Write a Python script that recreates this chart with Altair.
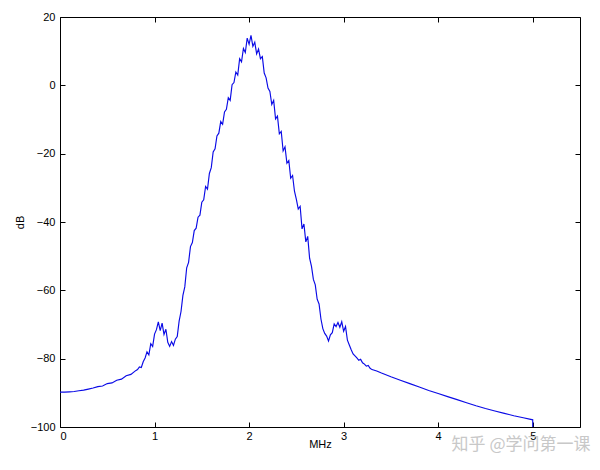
import altair as alt
import pandas as pd

# ---- data ----
freq_left = [0.00, 0.05, 0.10, 0.15, 0.20, 0.25, 0.30, 0.35, 0.40, 0.45,
             0.50, 0.55, 0.60, 0.65, 0.70, 0.75, 0.80]
db_left = [-89.8, -89.8, -89.7, -89.6, -89.4, -89.2, -88.9, -88.6, -88.2, -88.0,
           -87.3, -87.1, -86.3, -86.0, -85.0, -84.6, -83.5]

freq_mid = [0.82, 0.84, 0.86, 0.88, 0.90, 0.92, 0.94, 0.96, 0.98, 1.00,
            1.02, 1.04, 1.06, 1.08, 1.10, 1.12, 1.14, 1.16, 1.18, 1.20,
            1.22, 1.24, 1.26, 1.28, 1.30, 1.32, 1.34, 1.36, 1.38, 1.40,
            1.42, 1.44, 1.46, 1.48, 1.50, 1.52, 1.54, 1.56, 1.58, 1.60,
            1.62, 1.64, 1.66, 1.68, 1.70, 1.72, 1.74, 1.76, 1.78, 1.80,
            1.82, 1.84, 1.86, 1.88, 1.90, 1.92, 1.94, 1.96, 1.98, 2.00,
            2.02, 2.04, 2.06, 2.08, 2.10, 2.12, 2.14, 2.16, 2.18, 2.20,
            2.22, 2.24, 2.26, 2.28, 2.30, 2.32, 2.34, 2.36, 2.38, 2.40,
            2.42, 2.44, 2.46, 2.48, 2.50, 2.52, 2.54, 2.56, 2.58, 2.60,
            2.62, 2.64, 2.66, 2.68, 2.70, 2.72, 2.74, 2.76, 2.78, 2.80,
            2.82, 2.84, 2.86, 2.88, 2.90, 2.92, 2.94, 2.96, 2.98, 3.00,
            3.02, 3.04, 3.06, 3.08, 3.10, 3.12, 3.14, 3.16, 3.18, 3.20,
            3.22, 3.24, 3.26, 3.28, 3.30]
db_mid = [-83.2, -82.4, -82.6, -80.9, -79.8, -78.0, -78.9, -75.6, -76.4, -72.8,
          -71.5, -69.2, -71.8, -69.6, -72.9, -71.4, -75.2, -76.4, -75.0, -76.1,
          -74.3, -73.5, -69.0, -66.2, -61.5, -59.0, -53.4, -51.8, -47.2, -46.0,
          -42.5, -41.8, -38.6, -38.0, -34.2, -33.5, -29.6, -30.4, -25.8, -24.1,
          -19.5, -18.6, -14.8, -14.0, -10.6, -11.4, -7.8, -7.0, -3.6, -4.4,
          0.2, 0.8, 3.9, 3.0, 7.8, 6.9, 10.8, 9.6, 13.8, 12.0,
          14.6, 11.4, 12.6, 9.2, 10.6, 7.8, 8.4, 3.6, 2.2, -0.8,
          -1.8, -5.6, -4.4, -9.8, -9.0, -14.2, -13.5, -19.2, -18.0, -22.8,
          -22.0, -27.2, -26.4, -31.0, -33.4, -36.2, -35.4, -42.0, -40.6, -45.8,
          -44.2, -50.6, -53.0, -56.8, -58.4, -62.6, -64.0, -68.4, -71.2, -72.6,
          -73.4, -74.8, -73.0, -72.4, -69.8, -70.6, -69.4, -70.8, -69.2, -72.0,
          -70.6, -74.6, -76.0, -77.4, -78.6, -79.2, -79.8, -80.5, -80.2, -81.2,
          -81.6, -82.2, -82.0, -82.8, -83.2]

freq_right = [3.35, 3.40, 3.50, 3.60, 3.70, 3.80, 3.90, 4.00, 4.10, 4.20, 4.30,
              4.40, 4.50, 4.60, 4.70, 4.80, 4.90, 5.00, 5.00]
db_right = [-83.6, -84.2, -85.3, -86.3, -87.3, -88.3, -89.3, -90.2, -91.1, -92.0, -92.9,
            -93.8, -94.6, -95.3, -96.0, -96.7, -97.3, -97.9, -100.0]

x_ticks = [0, 1, 2, 3, 4, 5]
y_ticks = [-100, -80, -60, -40, -20, 0, 20]

freq = freq_left + freq_mid + freq_right
db = db_left + db_mid + db_right
df = pd.DataFrame({"MHz": freq, "dB": db, "i": list(range(len(freq)))})

FONT = "Liberation Sans"
xs = alt.Scale(domain=[0, 5.5], nice=False, zero=False)
ys = alt.Scale(domain=[-100, 20], nice=False, zero=False)

line = alt.Chart(df).mark_line(color="#0a0ae6", strokeWidth=1.15).encode(
    x=alt.X("MHz:Q", scale=xs, axis=alt.Axis(
        values=x_ticks, ticks=False, domain=False, grid=False,
        labelPadding=3, labelFont=FONT, labelFontSize=11, labelColor="black",
        title="MHz", titleFont=FONT, titleFontSize=11, titleFontWeight="normal",
        titleColor="black", titleBaseline="middle", titleY=17)),
    y=alt.Y("dB:Q", scale=ys, axis=alt.Axis(
        values=y_ticks, ticks=False, domain=False, grid=False,
        labelPadding=5, labelFont=FONT, labelFontSize=11, labelColor="black",
        title="dB", titleFont=FONT, titleFontSize=11, titleFontWeight="normal",
        titleColor="black", titleAngle=270, titleAlign="center",
        titleBaseline="middle", titleX=-40, titleY=205)),
    order="i:Q",
)

tick_kw = dict(labels=False, domain=False, grid=False, ticks=True,
               tickSize=5, offset=-5, tickColor="black", tickWidth=1, title=None)

ticks_a = alt.Chart(df).mark_line(opacity=0).encode(
    x=alt.X("MHz:Q", scale=xs, axis=alt.Axis(orient="bottom", values=x_ticks, **tick_kw)),
    y=alt.Y("dB:Q", scale=ys, axis=alt.Axis(orient="left", values=y_ticks, **tick_kw)),
)
ticks_b = alt.Chart(df).mark_line(opacity=0).encode(
    x=alt.X("MHz:Q", scale=xs, axis=alt.Axis(orient="top", values=x_ticks, **tick_kw)),
    y=alt.Y("dB:Q", scale=ys, axis=alt.Axis(orient="right", values=y_ticks, **tick_kw)),
)

chart = alt.layer(line, ticks_a, ticks_b).resolve_axis(
    x="independent", y="independent"
).properties(
    width=520, height=410,
    autosize=alt.AutoSizeParams(type="none"),
    padding={"left": 52, "top": 9, "right": 12, "bottom": 40},
    title=alt.TitleParams(
        "知乎 @学问第一课", orient="bottom", anchor="end",
        font="Noto Sans CJK SC", fontSize=17, fontWeight="normal",
        color="#c8c8c8", dy=-16, dx=10),
).configure_view(stroke="black", strokeWidth=1)

chart.save("out.html", embed_options={"renderer": "svg", "actions": False})
